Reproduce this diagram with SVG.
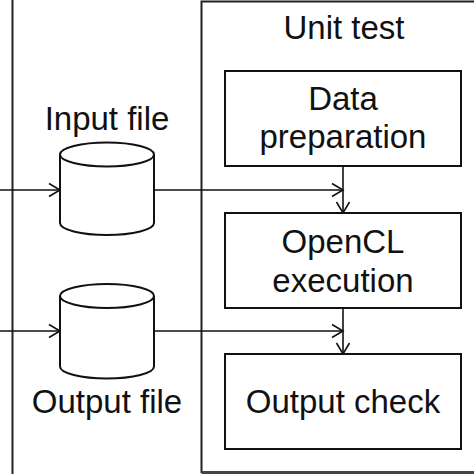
<svg xmlns="http://www.w3.org/2000/svg" width="474" height="474" viewBox="0 0 474 474">
<defs>
<style>
.frame{fill:none;stroke:#222;stroke-width:2}
.box{fill:#fff;stroke:#111;stroke-width:2}
.cyl{fill:#fff;stroke:#111;stroke-width:2}
.conn{fill:none;stroke:#111;stroke-width:1.6}
text{font-family:"Liberation Sans",Arial,sans-serif;font-size:33px;fill:#111;text-anchor:middle}
</style>
<marker id="arr" markerWidth="14" markerHeight="16" refX="12" refY="8" orient="auto" markerUnits="userSpaceOnUse">
<path d="M1,1.5 L12,8 L1,14.5" fill="none" stroke="#111" stroke-width="1.6"/>
</marker>
</defs>
<rect width="474" height="474" fill="#fff"/>
<g id="left-panel"><line class="frame" x1="12.5" y1="0" x2="12.5" y2="474"/></g>
<g id="unit-test">
<path class="frame" d="M476,1.5 H201.5 V472 H476"/>
<path d="M201.5,472.5 H476" stroke="#444" stroke-width="3" fill="none"/>
<text x="344" y="39">Unit test</text>
</g>
<g id="connectors">
<line class="conn" x1="0" y1="190" x2="60" y2="190" marker-end="url(#arr)"/>
<line class="conn" x1="154" y1="190" x2="343" y2="190" marker-end="url(#arr)"/>
<line class="conn" x1="343" y1="166" x2="343" y2="213" marker-end="url(#arr)"/>
<line class="conn" x1="0" y1="331" x2="60" y2="331" marker-end="url(#arr)"/>
<line class="conn" x1="154" y1="331" x2="343" y2="331" marker-end="url(#arr)"/>
<line class="conn" x1="343" y1="308" x2="343" y2="354" marker-end="url(#arr)"/>
</g>
<g id="input-file">
<path class="cyl" d="M60,154.5 V223 A47,12 0 0 0 154,223 V154.5"/>
<ellipse class="cyl" cx="107" cy="154.5" rx="47" ry="12"/>
<text x="107" y="130">Input file</text>
</g>
<g id="output-file">
<path class="cyl" d="M60,296 V366.5 A47,12 0 0 0 154,366.5 V296"/>
<ellipse class="cyl" cx="107" cy="296" rx="47" ry="12"/>
<text x="107" y="413">Output file</text>
</g>
<g id="data-preparation">
<rect class="box" x="225" y="71" width="236" height="95"/>
<text x="343" y="110">Data</text>
<text x="343" y="148">preparation</text>
</g>
<g id="opencl-execution">
<rect class="box" x="225" y="213" width="236" height="95"/>
<text x="343" y="253">OpenCL</text>
<text x="343" y="292">execution</text>
</g>
<g id="output-check">
<rect class="box" x="225" y="354" width="236" height="95"/>
<text x="343" y="413">Output check</text>
</g>
</svg>
